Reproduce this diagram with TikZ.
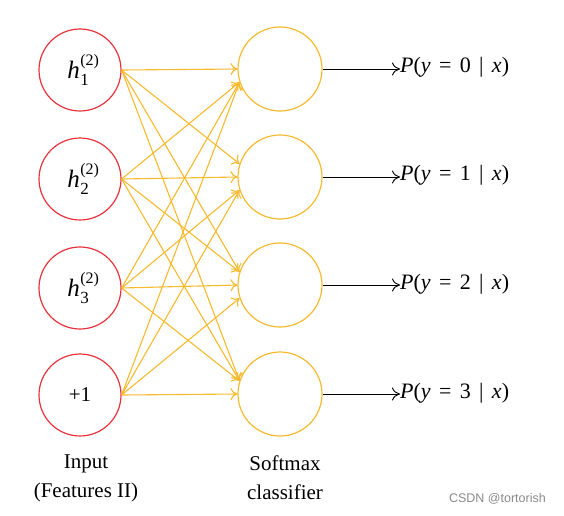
\documentclass[tikz,border=0pt]{standalone}
\usepackage{fontspec}
\setmainfont{Liberation Serif}
\usetikzlibrary{arrows.meta}
\definecolor{inred}{HTML}{E8333C}
\definecolor{smyel}{HTML}{F7BA2E}
\definecolor{wmgray}{HTML}{8A8A8A}
\newcommand{\hlab}[1]{{\fontsize{25}{25}\selectfont\textit{h}}\kern0.5pt\makebox[0pt][l]{\raisebox{0.62em}{\fontsize{16}{16}\selectfont(2)}}\raisebox{-0.3em}{\fontsize{17}{17}\selectfont #1}\hphantom{\fontsize{16}{16}\selectfont(2)}\kern-0.7em}
\newcommand{\plab}[1]{\textit{P}(\textit{y}\hspace{0.38em}=\hspace{0.38em}#1\hspace{0.38em}\textbar\hspace{0.38em}\textit{x})}
\begin{document}
\begin{tikzpicture}[x=1pt,y=-1pt,
  inp/.style={circle,draw=inred,line width=1.2pt,minimum size=82pt,inner sep=0pt,font=\fontsize{21}{22}\selectfont},
  smx/.style={circle,draw=smyel,line width=1.2pt,minimum size=84pt,inner sep=0pt},
  conn/.style={draw=smyel,line width=1.1pt,-{To[length=7pt,width=12pt]}},
  outa/.style={draw=black,line width=0.9pt,-{To[length=8pt,width=13pt]}},
  lab/.style={font=\fontsize{22}{22}\selectfont,anchor=west,inner sep=0pt},
  captxt/.style={font=\fontsize{21}{29}\selectfont,align=center,inner sep=0pt}]
\useasboundingbox (0,0) rectangle (564,515);
\node[inp] (h1) at (80,70) {\hlab{1}};
\node[inp] (h2) at (80,179) {\hlab{2}};
\node[inp] (h3) at (80,288) {\hlab{3}};
\node[inp] (b) at (80,395) {+1};
\node[smx] (s1) at (280,69) {};
\node[smx] (s2) at (280,177) {};
\node[smx] (s3) at (280,285) {};
\node[smx] (s4) at (280,394) {};
\foreach \i/\a in {h1/1,h2/2,h3/3,b/4}
  \foreach \j/\b in {s1/1,s2/2,s3/3,s4/4}{
    \ifnum\a<\b \def\ang{162}\else\ifnum\a>\b \def\ang{198}\else\def\ang{180}\fi\fi
    \draw[conn] (\i.east) -- (\j.\ang);
  }
\node[lab] (p1) at (400,67) {\plab{0}};
\node[lab] (p2) at (400,175) {\plab{1}};
\node[lab] (p3) at (400,284) {\plab{2}};
\node[lab] (p4) at (400,393) {\plab{3}};
\draw[outa] (s1.east) -- (s1.east -| p1.west);
\draw[outa] (s2.east) -- (s2.east -| p2.west);
\draw[outa] (s3.east) -- (s3.east -| p3.west);
\draw[outa] (s4.east) -- (s4.east -| p4.west);
\node[captxt] (c1) at (86,478) {Input\\(Features II)};
\node[captxt] (c2) at (285,478) {Softmax\\classifier};
\node[font=\fontsize{12.5}{14}\selectfont\fontspec{Liberation Sans},text=wmgray,anchor=east,inner sep=0pt] (wm) at (546,499) {CSDN @tortorish};
\end{tikzpicture}
\end{document}
